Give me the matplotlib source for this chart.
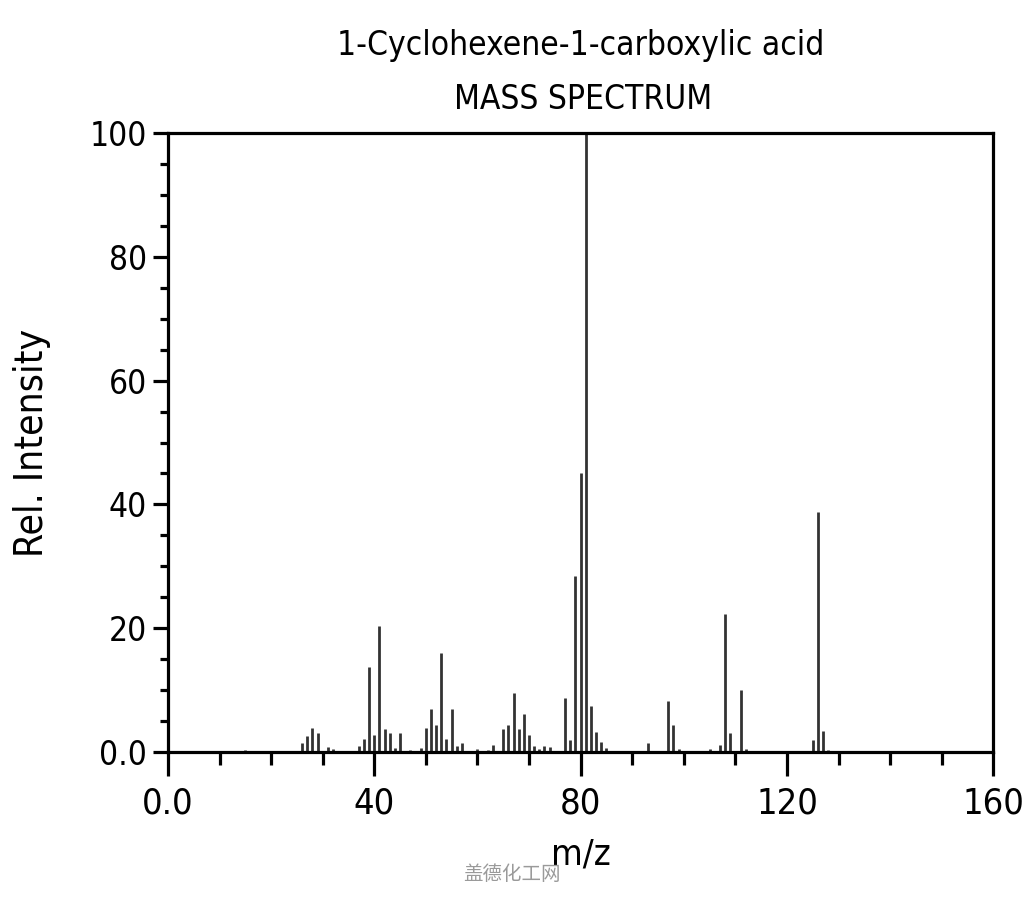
import numpy as np
import matplotlib
matplotlib.use("Agg")
import matplotlib.pyplot as plt
from matplotlib.ticker import MultipleLocator, FuncFormatter

# peak list
mz = [15, 26, 27, 28, 29, 31, 32, 37, 38, 39, 40, 41, 42, 43, 44, 45, 47, 49,
      50, 51, 52, 53, 54, 55, 56, 57, 60, 62, 63, 65, 66, 67, 68, 69, 70, 71,
      72, 73, 74, 77, 78, 79, 80, 81, 82, 83, 84, 85, 93, 97, 98, 99, 105, 107,
      108, 109, 111, 112, 125, 126, 127, 128]
intensity = [0.3, 1.4, 2.6, 3.9, 3.1, 0.8, 0.5, 0.9, 2.1, 13.8, 2.8, 20.3, 3.7,
             3.1, 0.7, 3.1, 0.3, 0.7, 3.9, 7.0, 4.4, 16.0, 2.1, 6.9, 1.0, 1.4,
             0.5, 0.3, 1.1, 3.7, 4.4, 9.5, 3.7, 6.2, 2.8, 1.0, 0.5, 1.0, 0.8,
             8.7, 1.9, 28.5, 45.0, 100, 7.4, 3.3, 1.6, 0.7, 1.4, 8.3, 4.4, 0.5,
             0.5, 1.1, 22.3, 3.1, 10.0, 0.5, 1.9, 38.7, 3.4, 0.4]

compound = "1-Cyclohexene-1-carboxylic acid"
subtitle = "MASS SPECTRUM"
watermark = "盖德化工网"

plt.rcParams["font.family"] = "DejaVu Sans"
plt.rcParams["font.stretch"] = "condensed"


def zero_fmt(v, pos):
    # first tick label shows as 0.0, the rest as integers
    return "0.0" if v == 0 else "{:d}".format(int(round(v)))


fig = plt.figure(figsize=(10.24, 9), dpi=100)
ax = fig.add_axes([0.164, 0.1644, 0.806, 0.6878])

ax.vlines(mz, 0, intensity, color="#333333", linewidth=2)

ax.set_xlim(0, 160)
ax.set_ylim(0, 100)

ax.xaxis.set_major_locator(MultipleLocator(40))
ax.xaxis.set_minor_locator(MultipleLocator(10))
ax.yaxis.set_major_locator(MultipleLocator(20))
ax.yaxis.set_minor_locator(MultipleLocator(5))
ax.xaxis.set_major_formatter(FuncFormatter(zero_fmt))
ax.yaxis.set_major_formatter(FuncFormatter(zero_fmt))

for s in ax.spines.values():
    s.set_linewidth(2.3)
    s.set_color("black")

ax.tick_params(axis="x", which="major", direction="out", length=17, width=2.3,
               labelsize=26, pad=8)
ax.tick_params(axis="x", which="minor", direction="out", length=9, width=2.3)
ax.tick_params(axis="y", which="major", direction="out", length=11, width=2.3,
               labelsize=24, pad=4)
ax.tick_params(axis="y", which="minor", direction="out", length=6, width=2.3)

ax.set_xlabel("m/z", fontsize=26, labelpad=12)
ax.set_ylabel("Rel. Intensity", fontsize=28, labelpad=28)

fig.text(0.567, 0.95, compound, ha="center", va="center", fontsize=24)
fig.text(0.569, 0.889, subtitle, ha="center", va="center", fontsize=24)
fig.text(0.5, 0.028, watermark, ha="center", va="center", fontsize=14,
         color="#9a9a9a", family=["Noto Sans CJK SC", "DejaVu Sans"])

fig.savefig("out.png", dpi=100)
